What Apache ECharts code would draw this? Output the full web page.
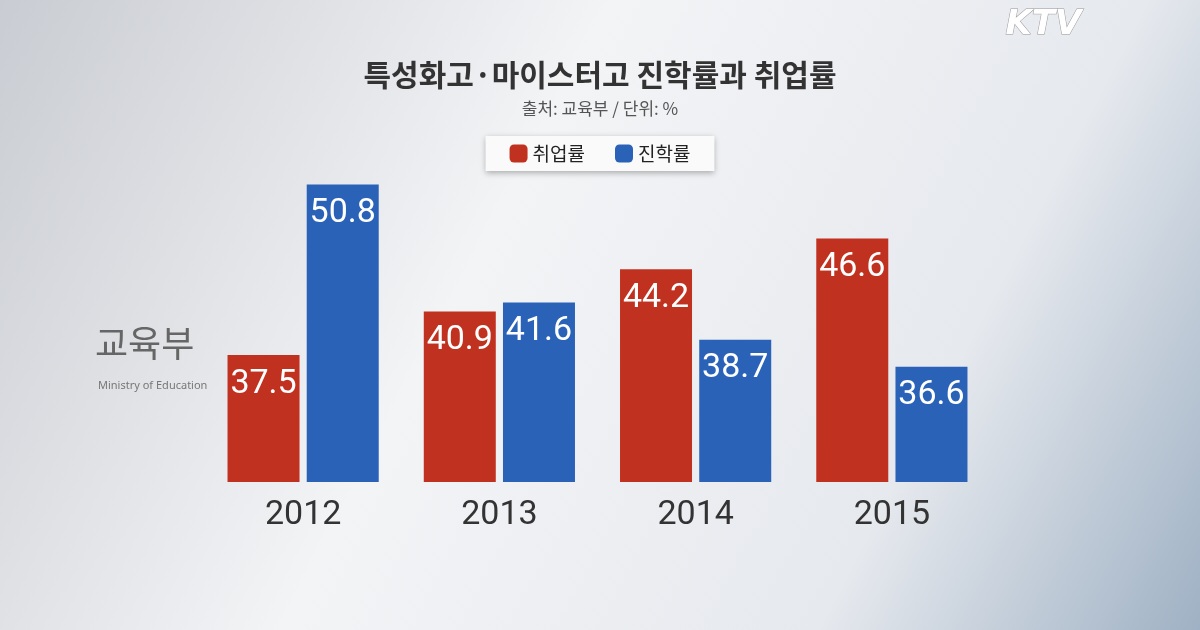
<!DOCTYPE html>
<html><head><meta charset="utf-8">
<script src="https://cdn.jsdelivr.net/npm/echarts@6/dist/echarts.min.js"></script>
<style>html,body{margin:0;padding:0}#chart{width:1200px;height:630px}</style>
</head><body><div id="chart"></div>
<script>
var years = ["2012", "2013", "2014", "2015"];
var employment = [37.5, 40.9, 44.2, 46.6];   // 취업률
var advancement = [50.8, 41.6, 38.7, 36.6];  // 진학률

var chart = echarts.init(document.getElementById("chart"));
var labelStyle = { show: true, position: "insideTop", color: "#fff", fontSize: 34, fontFamily: "Roboto", distance: 12 };

chart.setOption({
    backgroundColor: new echarts.graphic.LinearGradient(0, 0, 1, 1, [
        { offset: 0, color: "#c9ccd2" },
        { offset: 0.4, color: "#f3f4f6" },
        { offset: 0.75, color: "#e6e9ee" },
        { offset: 1, color: "#9fb1c4" }
    ]),
    title: {
        text: "특성화고·마이스터고 진학률과 취업률",
        subtext: "출처: 교육부 / 단위: %",
        left: "center", top: 55, itemGap: 10,
        textStyle: { fontFamily: "Noto Sans CJK KR", fontSize: 30, fontWeight: "bold", color: "#333" },
        subtextStyle: { fontFamily: "Noto Sans CJK KR", fontSize: 17, color: "#555" }
    },
    legend: {
        top: 136, left: "center", itemWidth: 18, itemHeight: 18, itemGap: 30,
        backgroundColor: "#fafafa", padding: [8, 24], shadowColor: "rgba(0,0,0,0.3)", shadowBlur: 6, shadowOffsetY: 2,
        textStyle: { fontFamily: "Noto Sans CJK KR", fontSize: 19, color: "#222" },
        data: ["취업률", "진학률"]
    },
    graphic: [
        { type: "text", left: 95, top: 325, style: { text: "교육부", font: "36px 'Noto Sans CJK KR'", fill: "#666" } },
        { type: "text", left: 98, top: 380, style: { text: "Ministry of Education", font: "11px 'Noto Sans'", fill: "#777" } },
        { type: "text", left: 1005, top: 8, style: { text: "KTV", font: "italic bold 34px 'DejaVu Sans'", fill: "#fff", stroke: "#999", lineWidth: 1 } }
    ],
    grid: { left: 205, right: 210, top: 150, bottom: 148 },
    xAxis: {
        type: "category", data: years,
        axisLine: { show: false }, axisTick: { show: false },
        axisLabel: { fontSize: 34, color: "#333", fontFamily: "Roboto", margin: 16 }
    },
    yAxis: { type: "value", min: 27.6, max: 53.5, show: false, splitLine: { show: false } },
    series: [
        { name: "취업률", type: "bar", data: employment, barWidth: 72, barGap: "10%", itemStyle: { color: "#c0311f" }, label: labelStyle },
        { name: "진학률", type: "bar", data: advancement, barWidth: 72, itemStyle: { color: "#2a62b8" }, label: labelStyle }
    ]
});
</script></body></html>
